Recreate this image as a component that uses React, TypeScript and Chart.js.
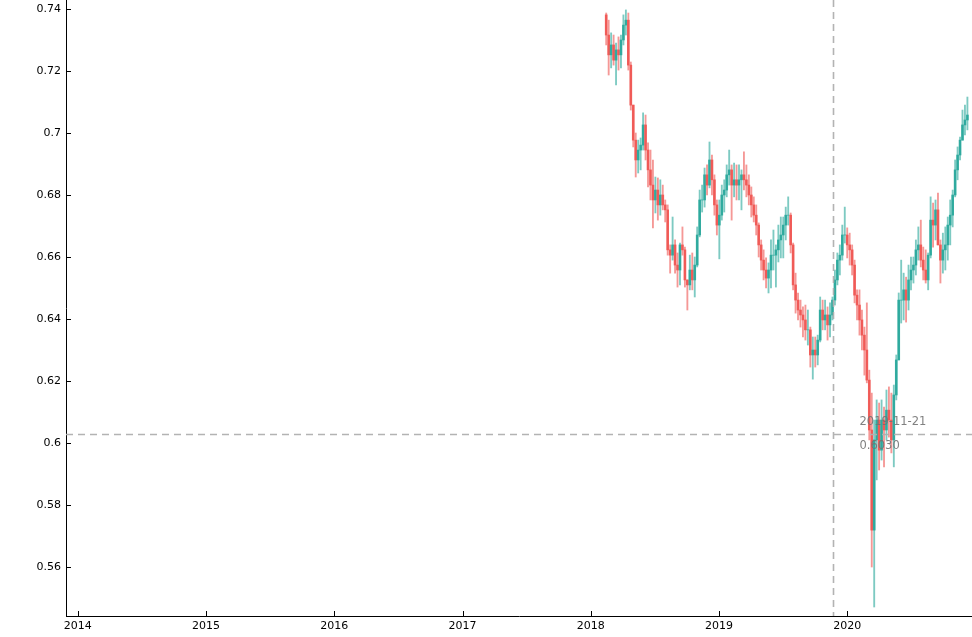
import React, { useEffect, useRef } from "react";
import { Chart, registerables } from "chart.js";

Chart.register(...registerables);

// Weekly candles (mid-week date), NZD/USD-like series
const weekDates: string[] = [
  "2018-02-14", "2018-02-21", "2018-02-28",
  "2018-03-07", "2018-03-14", "2018-03-21", "2018-03-28",
  "2018-04-04", "2018-04-11", "2018-04-18", "2018-04-25",
  "2018-05-02", "2018-05-09", "2018-05-16", "2018-05-23", "2018-05-30",
  "2018-06-06", "2018-06-13", "2018-06-20", "2018-06-27",
  "2018-07-04", "2018-07-11", "2018-07-18", "2018-07-25",
  "2018-08-01", "2018-08-08", "2018-08-15", "2018-08-22", "2018-08-29",
  "2018-09-05", "2018-09-12", "2018-09-19", "2018-09-26",
  "2018-10-03", "2018-10-10", "2018-10-17", "2018-10-24", "2018-10-31",
  "2018-11-07", "2018-11-14", "2018-11-21", "2018-11-28",
  "2018-12-05", "2018-12-12", "2018-12-19", "2018-12-26",
  "2019-01-02", "2019-01-09", "2019-01-16", "2019-01-23", "2019-01-30",
  "2019-02-06", "2019-02-13", "2019-02-20", "2019-02-27",
  "2019-03-06", "2019-03-13", "2019-03-20", "2019-03-27",
  "2019-04-03", "2019-04-10", "2019-04-17", "2019-04-24",
  "2019-05-01", "2019-05-08", "2019-05-15", "2019-05-22", "2019-05-29",
  "2019-06-05", "2019-06-12", "2019-06-19", "2019-06-26",
  "2019-07-03", "2019-07-10", "2019-07-17", "2019-07-24", "2019-07-31",
  "2019-08-07", "2019-08-14", "2019-08-21", "2019-08-28",
  "2019-09-04", "2019-09-11", "2019-09-18", "2019-09-25",
  "2019-10-02", "2019-10-09", "2019-10-16", "2019-10-23", "2019-10-30",
  "2019-11-06", "2019-11-13", "2019-11-20", "2019-11-27",
  "2019-12-04", "2019-12-11", "2019-12-18", "2019-12-25",
  "2020-01-01", "2020-01-08", "2020-01-15", "2020-01-22", "2020-01-29",
  "2020-02-05", "2020-02-12", "2020-02-19", "2020-02-26",
  "2020-03-04", "2020-03-11", "2020-03-18", "2020-03-25",
  "2020-04-01", "2020-04-08", "2020-04-15", "2020-04-22", "2020-04-29",
  "2020-05-06", "2020-05-13", "2020-05-20", "2020-05-27",
  "2020-06-03", "2020-06-10", "2020-06-17", "2020-06-24",
  "2020-07-01", "2020-07-08", "2020-07-15", "2020-07-22", "2020-07-29",
  "2020-08-05", "2020-08-12", "2020-08-19", "2020-08-26",
  "2020-09-02", "2020-09-09", "2020-09-16", "2020-09-23", "2020-09-30",
  "2020-10-07", "2020-10-14", "2020-10-21", "2020-10-28",
  "2020-11-04", "2020-11-11", "2020-11-18", "2020-11-25",
  "2020-12-02", "2020-12-09",
];

const openValues: number[] = [
  0.7381, 0.7316, 0.7252, 0.7284, 0.7235, 0.7268, 0.7252, 0.7300, 0.7348, 0.7364,
  0.7219, 0.7090, 0.6977, 0.6913, 0.6945, 0.6961, 0.7026, 0.6945, 0.6881, 0.6832,
  0.6784, 0.6816, 0.6768, 0.6800, 0.6768, 0.6752, 0.6623, 0.6606, 0.6639, 0.6574,
  0.6558, 0.6639, 0.6623, 0.6526, 0.6510, 0.6558, 0.6526, 0.6574, 0.6671, 0.6784,
  0.6784, 0.6865, 0.6832, 0.6913, 0.6849, 0.6768, 0.6703, 0.6735, 0.6800, 0.6816,
  0.6865, 0.6881, 0.6832, 0.6849, 0.6832, 0.6849, 0.6865, 0.6849, 0.6832, 0.6800,
  0.6768, 0.6735, 0.6703, 0.6639, 0.6590, 0.6558, 0.6532, 0.6558, 0.6606, 0.6606,
  0.6623, 0.6655, 0.6671, 0.6703, 0.6735, 0.6735, 0.6639, 0.6510, 0.6461, 0.6429,
  0.6413, 0.6397, 0.6365, 0.6365, 0.6284, 0.6300, 0.6284, 0.6332, 0.6429, 0.6397,
  0.6413, 0.6381, 0.6413, 0.6461, 0.6526, 0.6590, 0.6606, 0.6671, 0.6671, 0.6639,
  0.6623, 0.6574, 0.6477, 0.6445, 0.6397, 0.6348, 0.6300, 0.6203, 0.6042, 0.5719,
  0.6010, 0.6074, 0.5977, 0.6074, 0.6042, 0.6106, 0.6074, 0.6010, 0.6155, 0.6268,
  0.6461, 0.6461, 0.6494, 0.6461, 0.6526, 0.6558, 0.6574, 0.6623, 0.6639, 0.6590,
  0.6558, 0.6526, 0.6606, 0.6719, 0.6703, 0.6752, 0.6639, 0.6590, 0.6623, 0.6639,
  0.6703, 0.6735, 0.6800, 0.6881, 0.6929, 0.6977, 0.7026, 0.7042,
];

const highValues: number[] = [
  0.7387, 0.7364, 0.7323, 0.7316, 0.7290, 0.7310, 0.7316, 0.7381, 0.7397, 0.7387,
  0.7229, 0.7090, 0.7000, 0.6977, 0.6984, 0.7065, 0.7058, 0.6968, 0.6945, 0.6913,
  0.6858, 0.6855, 0.6849, 0.6832, 0.6784, 0.6768, 0.6639, 0.6729, 0.6655, 0.6613,
  0.6645, 0.6697, 0.6632, 0.6526, 0.6606, 0.6613, 0.6600, 0.6697, 0.6816, 0.6832,
  0.6887, 0.6897, 0.6971, 0.6929, 0.6865, 0.6784, 0.6784, 0.6832, 0.6849, 0.6897,
  0.6945, 0.6897, 0.6903, 0.6897, 0.6897, 0.6881, 0.6939, 0.6897, 0.6865, 0.6826,
  0.6794, 0.6768, 0.6710, 0.6655, 0.6623, 0.6597, 0.6581, 0.6655, 0.6687, 0.6639,
  0.6703, 0.6729, 0.6729, 0.6761, 0.6794, 0.6742, 0.6645, 0.6548, 0.6484, 0.6461,
  0.6439, 0.6445, 0.6429, 0.6374, 0.6342, 0.6342, 0.6348, 0.6471, 0.6461, 0.6461,
  0.6439, 0.6452, 0.6471, 0.6558, 0.6613, 0.6639, 0.6703, 0.6761, 0.6694, 0.6677,
  0.6639, 0.6590, 0.6494, 0.6494, 0.6429, 0.6374, 0.6452, 0.6235, 0.6161, 0.6074,
  0.6139, 0.6129, 0.6139, 0.6116, 0.6171, 0.6181, 0.6161, 0.6187, 0.6284, 0.6484,
  0.6590, 0.6548, 0.6535, 0.6574, 0.6600, 0.6600, 0.6655, 0.6697, 0.6719, 0.6632,
  0.6623, 0.6613, 0.6794, 0.6774, 0.6784, 0.6806, 0.6655, 0.6677, 0.6697, 0.6729,
  0.6784, 0.6816, 0.6913, 0.6955, 0.6987, 0.7074, 0.7090, 0.7116,
];

const lowValues: number[] = [
  0.7284, 0.7187, 0.7210, 0.7219, 0.7155, 0.7203, 0.7210, 0.7284, 0.7316, 0.7203,
  0.7074, 0.6955, 0.6858, 0.6871, 0.6881, 0.6945, 0.6913, 0.6826, 0.6784, 0.6694,
  0.6742, 0.6719, 0.6735, 0.6752, 0.6713, 0.6606, 0.6548, 0.6590, 0.6548, 0.6503,
  0.6510, 0.6606, 0.6503, 0.6429, 0.6494, 0.6494, 0.6471, 0.6568, 0.6665, 0.6745,
  0.6761, 0.6800, 0.6823, 0.6800, 0.6735, 0.6671, 0.6594, 0.6719, 0.6745, 0.6794,
  0.6832, 0.6719, 0.6794, 0.6784, 0.6784, 0.6752, 0.6816, 0.6794, 0.6768, 0.6729,
  0.6713, 0.6671, 0.6600, 0.6558, 0.6526, 0.6500, 0.6484, 0.6500, 0.6558, 0.6503,
  0.6584, 0.6597, 0.6597, 0.6655, 0.6703, 0.6613, 0.6494, 0.6419, 0.6397, 0.6374,
  0.6342, 0.6332, 0.6316, 0.6245, 0.6206, 0.6245, 0.6252, 0.6326, 0.6365, 0.6365,
  0.6332, 0.6342, 0.6397, 0.6445, 0.6510, 0.6542, 0.6590, 0.6645, 0.6597, 0.6574,
  0.6542, 0.6452, 0.6397, 0.6348, 0.6300, 0.6219, 0.6194, 0.6010, 0.5600, 0.5471,
  0.5881, 0.5913, 0.5945, 0.5923, 0.6010, 0.6019, 0.5968, 0.5923, 0.6139, 0.6268,
  0.6387, 0.6397, 0.6390, 0.6429, 0.6494, 0.6516, 0.6542, 0.6590, 0.6568, 0.6526,
  0.6516, 0.6494, 0.6597, 0.6632, 0.6655, 0.6639, 0.6516, 0.6548, 0.6558, 0.6590,
  0.6639, 0.6697, 0.6794, 0.6849, 0.6913, 0.6977, 0.6994, 0.7010,
];

const closeValues: number[] = [
  0.7316, 0.7252, 0.7284, 0.7235, 0.7268, 0.7252, 0.7300, 0.7348, 0.7364, 0.7219,
  0.7090, 0.6977, 0.6913, 0.6945, 0.6961, 0.7026, 0.6945, 0.6881, 0.6832, 0.6784,
  0.6816, 0.6768, 0.6800, 0.6768, 0.6752, 0.6623, 0.6606, 0.6639, 0.6574, 0.6558,
  0.6639, 0.6623, 0.6526, 0.6510, 0.6558, 0.6526, 0.6574, 0.6671, 0.6784, 0.6784,
  0.6865, 0.6832, 0.6913, 0.6849, 0.6768, 0.6703, 0.6735, 0.6800, 0.6816, 0.6865,
  0.6881, 0.6832, 0.6849, 0.6832, 0.6849, 0.6865, 0.6849, 0.6832, 0.6800, 0.6768,
  0.6735, 0.6703, 0.6639, 0.6590, 0.6558, 0.6532, 0.6558, 0.6606, 0.6606, 0.6623,
  0.6655, 0.6671, 0.6703, 0.6735, 0.6735, 0.6639, 0.6510, 0.6461, 0.6429, 0.6413,
  0.6397, 0.6365, 0.6365, 0.6284, 0.6300, 0.6284, 0.6332, 0.6429, 0.6397, 0.6413,
  0.6381, 0.6413, 0.6461, 0.6526, 0.6590, 0.6606, 0.6671, 0.6671, 0.6639, 0.6623,
  0.6574, 0.6477, 0.6445, 0.6397, 0.6348, 0.6300, 0.6203, 0.6042, 0.5719, 0.6010,
  0.6074, 0.5977, 0.6074, 0.6042, 0.6106, 0.6074, 0.6010, 0.6155, 0.6268, 0.6461,
  0.6461, 0.6494, 0.6461, 0.6526, 0.6558, 0.6574, 0.6623, 0.6639, 0.6590, 0.6558,
  0.6526, 0.6606, 0.6719, 0.6703, 0.6752, 0.6639, 0.6590, 0.6623, 0.6639, 0.6703,
  0.6735, 0.6800, 0.6881, 0.6929, 0.6977, 0.7026, 0.7042, 0.7058,
];

const yearTicks: number[] = [2014, 2015, 2016, 2017, 2018, 2019, 2020];
const priceTicks: number[] = [0.56, 0.58, 0.6, 0.62, 0.64, 0.66, 0.68, 0.7, 0.72, 0.74];

const xRange = { min: 2013.908, max: 2020.973 };
const yRange = { min: 0.5442, max: 0.7429 };

const crosshairDate = "2019-11-21";
const crosshairPrice = 0.603;

const UP_BODY = "rgba(38,166,154,0.9)";
const DOWN_BODY = "rgba(239,83,80,0.9)";
const UP_WICK = "rgba(38,166,154,0.6)";
const DOWN_WICK = "rgba(239,83,80,0.6)";
const FONT = "DejaVu Sans";

function toYear(s: string): number {
  const [y, m, d] = s.split("-").map(Number);
  const t = Date.UTC(y, m - 1, d);
  const a = Date.UTC(y, 0, 1);
  const b = Date.UTC(y + 1, 0, 1);
  return y + (t - a) / (b - a);
}

export default function App() {
  const ref = useRef<HTMLCanvasElement>(null);

  useEffect(() => {
    const xs = weekDates.map(toYear);
    const isUp = closeValues.map((c, i) => c >= openValues[i]);
    const bodyColors = isUp.map((u) => (u ? UP_BODY : DOWN_BODY));
    const wickColors = isUp.map((u) => (u ? UP_WICK : DOWN_WICK));

    const innerTicks = {
      id: "innerTicks",
      afterDraw(chart: any) {
        const { ctx, chartArea, scales } = chart;
        ctx.save();
        ctx.strokeStyle = "#000";
        ctx.lineWidth = 1;
        ctx.beginPath();
        for (const t of scales.x.ticks) {
          const px = Math.round(scales.x.getPixelForValue(t.value)) + 0.5;
          ctx.moveTo(px, chartArea.bottom);
          ctx.lineTo(px, chartArea.bottom - 5);
        }
        for (const t of scales.y.ticks) {
          const py = Math.round(scales.y.getPixelForValue(t.value)) + 0.5;
          ctx.moveTo(chartArea.left, py);
          ctx.lineTo(chartArea.left + 5, py);
        }
        ctx.stroke();
        ctx.restore();
      },
    };

    const crosshair = {
      id: "crosshair",
      afterDatasetsDraw(chart: any) {
        const { ctx, chartArea, scales } = chart;
        const px = Math.round(scales.x.getPixelForValue(toYear(crosshairDate))) + 0.5;
        const py = Math.round(scales.y.getPixelForValue(crosshairPrice)) + 0.5;
        ctx.save();
        ctx.strokeStyle = "rgba(175,175,175,0.95)";
        ctx.lineWidth = 1.6;
        ctx.setLineDash([7, 5]);
        ctx.beginPath();
        ctx.moveTo(px, chartArea.top);
        ctx.lineTo(px, chartArea.bottom);
        ctx.moveTo(chartArea.left, py);
        ctx.lineTo(chartArea.right, py);
        ctx.stroke();
        ctx.setLineDash([]);
        ctx.fillStyle = "rgba(115,115,115,0.9)";
        ctx.font = `11.5px "${FONT}"`;
        ctx.textAlign = "left";
        ctx.textBaseline = "middle";
        ctx.fillText(crosshairDate, px + 26, py - 12);
        ctx.fillText(crosshairPrice.toFixed(4), px + 26, py + 12);
        ctx.restore();
      },
    };

    const axisCommon = {
      grid: { display: true, drawOnChartArea: false, drawTicks: false },
      border: { display: true, color: "#000", width: 1 },
    };

    const chart = new Chart(ref.current as HTMLCanvasElement, {
      type: "bar",
      data: {
        datasets: [
          {
            label: "range",
            data: xs.map((x, i) => ({ x, y: [lowValues[i], highValues[i]] })) as any,
            backgroundColor: wickColors,
            borderWidth: 0,
            barThickness: 1.2,
            grouped: false,
            order: 2,
          } as any,
          {
            label: "body",
            data: xs.map((x, i) => ({ x, y: [openValues[i], closeValues[i]] })) as any,
            backgroundColor: bodyColors,
            borderWidth: 0,
            barThickness: 2,
            grouped: false,
            order: 1,
          } as any,
        ],
      },
      options: {
        animation: false,
        responsive: true,
        maintainAspectRatio: false,
        events: [],
        layout: { padding: 0 },
        plugins: {
          legend: { display: false },
          tooltip: { enabled: false },
          title: { display: false },
        },
        scales: {
          x: {
            type: "linear",
            min: xRange.min,
            max: xRange.max,
            offset: false,
            ...axisCommon,
            ticks: {
              color: "#000",
              font: { family: FONT, size: 11 },
              padding: 4,
              maxRotation: 0,
              autoSkip: false,
              callback: (v: any) => String(v),
            },
            afterBuildTicks: (s: any) => {
              s.ticks = yearTicks.map((v) => ({ value: v }));
            },
            afterFit: (s: any) => {
              s.height = 21;
              s.paddingLeft = 0;
              s.paddingRight = 0;
            },
          } as any,
          y: {
            type: "linear",
            min: yRange.min,
            max: yRange.max,
            ...axisCommon,
            ticks: {
              color: "#000",
              font: { family: FONT, size: 11 },
              padding: 5,
              autoSkip: false,
              callback: (v: any) => String(parseFloat(Number(v).toFixed(2))),
            },
            afterBuildTicks: (s: any) => {
              s.ticks = priceTicks.map((v) => ({ value: v }));
            },
            afterFit: (s: any) => {
              s.width = 66;
              s.paddingTop = 0;
              s.paddingBottom = 0;
            },
          } as any,
        },
      },
      plugins: [crosshair, innerTicks],
    });

    return () => chart.destroy();
  }, []);

  return (
    <div style={{ position: "fixed", left: 0, top: 0, width: 972, height: 637, background: "#fff" }}>
      <canvas ref={ref} />
    </div>
  );
}
